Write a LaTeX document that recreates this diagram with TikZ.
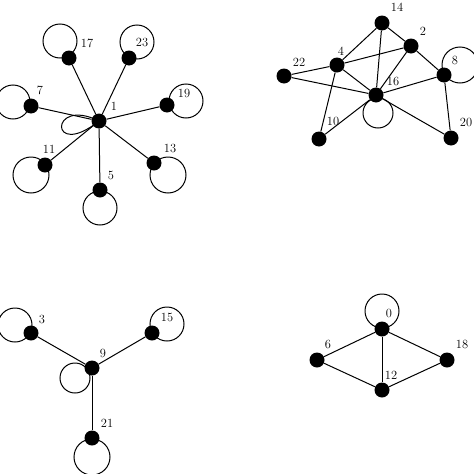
\documentclass[tikz,border=0pt]{standalone}
\usetikzlibrary{arrows.meta}

\begin{document}
\begin{tikzpicture}[x=1pt,y=-1pt,
  dot/.style={circle,fill=black,inner sep=0pt,minimum size=15pt},
  lbl/.style={font=\fontsize{12.5}{14}\selectfont,inner sep=0pt},
  edge/.style={line width=1pt},
  selfloop/.style={line width=1pt}]
  \clip (0,0) rectangle (474,474);
  % star around 1
  \node[dot] (n1) at (99,121) {};
  \node[dot] (n17) at (69,58) {};
  \node[dot] (n23) at (129,58) {};
  \node[dot] (n7) at (31,106) {};
  \node[dot] (n19) at (167,105) {};
  \node[dot] (n11) at (45,165) {};
  \node[dot] (n13) at (154,163) {};
  \node[dot] (n5) at (100,190) {};
  \foreach \v in {17,23,7,19,11,13,5} \draw[edge] (n1) -- (n\v);
  \draw[selfloop] ([shift={(-9,-17)}]n17.center) circle (17);
  \draw[selfloop] ([shift={(8,-16)}]n23.center) circle (17);
  \draw[selfloop] ([shift={(-18,-4)}]n7.center) circle (17);
  \draw[selfloop] ([shift={(19,-4)}]n19.center) circle (17);
  \draw[selfloop] ([shift={(-14,10)}]n11.center) circle (18);
  \draw[selfloop] ([shift={(14,12)}]n13.center) circle (18);
  \draw[selfloop] ([shift={(0,18)}]n5.center) circle (17);
  \draw[selfloop] (n1.center) .. controls +(-50,-25) and +(-50,40) .. (n1.center);
  \node[lbl] (l1) at (114,106) {1};
  \node[lbl] (l17) at (87,43) {17};
  \node[lbl] (l23) at (142,42) {23};
  \node[lbl] (l7) at (40,90) {7};
  \node[lbl] (l19) at (184,93) {19};
  \node[lbl] (l11) at (49,149) {11};
  \node[lbl] (l13) at (170,148) {13};
  \node[lbl] (l5) at (111,175) {5};
  % graph around 16
  \node[dot] (n16) at (376,95) {};
  \node[dot] (n14) at (382,23) {};
  \node[dot] (n2) at (411,46) {};
  \node[dot] (n4) at (337,65) {};
  \node[dot] (n22) at (284,76) {};
  \node[dot] (n8) at (444,75) {};
  \node[dot] (n10) at (319,139) {};
  \node[dot] (n20) at (451,138) {};
  \foreach \a/\b in {14/4,14/16,14/2,2/4,2/16,2/8,4/22,4/16,4/10,22/16,16/8,16/10,16/20,8/20}
    \draw[edge] (n\a) -- (n\b);
  \draw[selfloop] ([shift={(2,18)}]n16.center) circle (15);
  \draw[selfloop] ([shift={(16,-10)}]n8.center) circle (18);
  \node[lbl] (l14) at (397,7) {14};
  \node[lbl] (l2) at (423,31) {2};
  \node[lbl] (l4) at (341,51) {4};
  \node[lbl] (l22) at (299,62) {22};
  \node[lbl] (l16) at (393,81) {16};
  \node[lbl] (l8) at (455,60) {8};
  \node[lbl] (l10) at (333,121) {10};
  \node[lbl] (l20) at (466,122) {20};
  % graph around 9
  \node[dot] (n9) at (92,368) {};
  \node[dot] (n3) at (31,333) {};
  \node[dot] (n15) at (152,333) {};
  \node[dot] (n21) at (92,438) {};
  \foreach \v in {3,15,21} \draw[edge] (n9) -- (n\v);
  \draw[selfloop] ([shift={(-16,-8)}]n3.center) circle (17);
  \draw[selfloop] ([shift={(15,-9)}]n15.center) circle (17);
  \draw[selfloop] ([shift={(-17,10)}]n9.center) circle (15);
  \draw[selfloop] ([shift={(0,19)}]n21.center) circle (18);
  \node[lbl] (l3) at (42,319) {3};
  \node[lbl] (l15) at (167,317) {15};
  \node[lbl] (l9) at (103,353) {9};
  \node[lbl] (l21) at (107,423) {21};
  % graph around 0
  \node[dot] (n0) at (382,329) {};
  \node[dot] (n6) at (317,360) {};
  \node[dot] (n18) at (447,360) {};
  \node[dot] (n12) at (382,390) {};
  \foreach \a/\b in {0/6,0/12,0/18,6/12,12/18} \draw[edge] (n\a) -- (n\b);
  \draw[selfloop] ([shift={(0,-18)}]n0.center) circle (17);
  \node[lbl] (l0) at (389,313) {0};
  \node[lbl] (l6) at (328,344) {6};
  \node[lbl] (l18) at (462,344) {18};
  \node[lbl] (l12) at (391,375) {12};
\end{tikzpicture}
\end{document}
